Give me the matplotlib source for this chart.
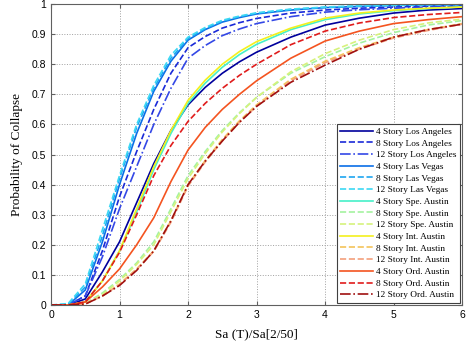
import numpy as np
import matplotlib
matplotlib.use("Agg")
import matplotlib.pyplot as plt

# intensity ratio Sa(T)/Sa[2/50]
x = [0, 0.25, 0.5, 0.75, 1, 1.25, 1.5, 1.75, 2, 2.25, 2.5, 2.75, 3, 3.5, 4, 4.5, 5, 5.5, 6]

la4 = [0, 0, 0.02, 0.11, 0.21, 0.34, 0.47, 0.58, 0.665, 0.723, 0.77, 0.808, 0.84, 0.89, 0.93, 0.953, 0.97, 0.98, 0.985]
la8 = [0, 0, 0.03, 0.18, 0.36, 0.51, 0.65, 0.77, 0.855, 0.892, 0.92, 0.938, 0.952, 0.97, 0.98, 0.986, 0.99, 0.993, 0.995]
la12 = [0, 0, 0.03, 0.16, 0.32, 0.46, 0.60, 0.72, 0.82, 0.862, 0.895, 0.917, 0.935, 0.958, 0.973, 0.981, 0.986, 0.99, 0.992]
lv4 = [0, 0, 0.05, 0.21, 0.40, 0.57, 0.71, 0.81, 0.88, 0.915, 0.94, 0.955, 0.967, 0.98, 0.988, 0.992, 0.995, 0.997, 0.998]
lv8 = [0, 0.002, 0.06, 0.23, 0.42, 0.59, 0.72, 0.82, 0.885, 0.918, 0.943, 0.958, 0.969, 0.982, 0.989, 0.993, 0.996, 0.997, 0.998]
lv12 = [0, 0.005, 0.07, 0.25, 0.43, 0.60, 0.73, 0.83, 0.89, 0.922, 0.946, 0.96, 0.971, 0.983, 0.99, 0.994, 0.996, 0.998, 0.999]
spe4 = [0, 0, 0.01, 0.08, 0.18, 0.31, 0.45, 0.57, 0.67, 0.737, 0.79, 0.832, 0.866, 0.915, 0.948, 0.967, 0.978, 0.985, 0.99]
spe8 = [0, 0, 0.005, 0.04, 0.085, 0.14, 0.21, 0.32, 0.43, 0.51, 0.58, 0.639, 0.69, 0.77, 0.825, 0.87, 0.905, 0.93, 0.945]
spe12 = [0, 0, 0.005, 0.035, 0.08, 0.135, 0.2, 0.31, 0.42, 0.503, 0.575, 0.636, 0.69, 0.775, 0.835, 0.88, 0.915, 0.937, 0.95]
int4 = [0, 0, 0.01, 0.08, 0.18, 0.32, 0.46, 0.58, 0.68, 0.747, 0.80, 0.842, 0.875, 0.92, 0.953, 0.97, 0.98, 0.986, 0.99]
int8 = [0, 0, 0.004, 0.03, 0.07, 0.12, 0.18, 0.28, 0.40, 0.48, 0.55, 0.612, 0.665, 0.75, 0.81, 0.855, 0.89, 0.915, 0.935]
int12 = [0, 0, 0.004, 0.03, 0.068, 0.118, 0.178, 0.275, 0.395, 0.475, 0.545, 0.607, 0.66, 0.745, 0.805, 0.85, 0.887, 0.912, 0.933]
ord4 = [0, 0, 0.01, 0.06, 0.12, 0.2, 0.29, 0.41, 0.515, 0.59, 0.65, 0.70, 0.745, 0.82, 0.877, 0.91, 0.935, 0.948, 0.958]
ord8 = [0, 0, 0.01, 0.08, 0.175, 0.30, 0.43, 0.53, 0.61, 0.67, 0.72, 0.763, 0.80, 0.865, 0.91, 0.937, 0.955, 0.965, 0.972]
ord12 = [0, 0, 0.003, 0.03, 0.065, 0.115, 0.18, 0.28, 0.40, 0.478, 0.545, 0.607, 0.66, 0.74, 0.797, 0.85, 0.89, 0.915, 0.933]

labels = ["4 Story Los Angeles", "8 Story Los Angeles", "12 Story Los Angeles",
          "4 Story Las Vegas", "8 Story Las Vegas", "12 Story Las Vegas",
          "4 Story Spe. Austin", "8 Story Spe. Austin", "12 Story Spe. Austin",
          "4 Story Int. Austin", "8 Story Int. Austin", "12 Story Int. Austin",
          "4 Story Ord. Austin", "8 Story Ord. Austin", "12 Story Ord. Austin"]
series = [la4, la8, la12, lv4, lv8, lv12, spe4, spe8, spe12, int4, int8, int12, ord4, ord8, ord12]
colors = ["#00009c", "#1a2ad8", "#3448e6",
          "#0a6ee6", "#1ea6f0", "#3cd8f4",
          "#46f0c8", "#a4f2a0", "#d6f27c",
          "#f4f01e", "#f4c45a", "#f4a07c",
          "#f45420", "#e01c1c", "#a01010"]
styles = ["-", "--", "-.", "-", "--", "--", "-", "--", "--", "-", "--", "--", "-", "--", "-."]

fig = plt.figure(figsize=(4.74, 3.49), dpi=100)
ax = fig.add_axes([0.1076, 0.126, 0.8674, 0.8625])

for i in range(len(series)):
    ax.plot(x, series[i], color=colors[i], linestyle=styles[i], linewidth=1.2, label=labels[i])

ax.set_xlim(0, 6)
ax.set_ylim(0, 1)
ax.set_xticks(range(7))
ax.set_yticks(np.arange(0, 1.01, 0.1))
ax.set_yticklabels(["0", "0.1", "0.2", "0.3", "0.4", "0.5", "0.6", "0.7", "0.8", "0.9", "1"])
ax.grid(True, linestyle=":", color="#a0a0a0", linewidth=0.7)
ax.tick_params(direction="in", top=True, right=True, labelsize=7.5, length=3, color="#606060")
for lab in ax.get_xticklabels() + ax.get_yticklabels():
    lab.set_family("Liberation Sans")
for sp in ax.spines.values():
    sp.set_color("#606060")
    sp.set_linewidth(0.8)

ax.set_xlabel("Sa (T)/Sa[2/50]", family="Liberation Serif", fontsize=9.5, labelpad=6)
ax.set_ylabel("Probability of Collapse", family="Liberation Serif", fontsize=9.5, labelpad=6)

leg = ax.legend(loc="lower right", prop={"family": "Liberation Serif", "size": 6.7},
                fancybox=False, framealpha=1, edgecolor="#404040", borderaxespad=0.25,
                handlelength=3.6, labelspacing=0.34, handletextpad=0.3, borderpad=0.35)
leg.get_frame().set_linewidth(0.8)

plt.savefig("out.png", dpi=100)
